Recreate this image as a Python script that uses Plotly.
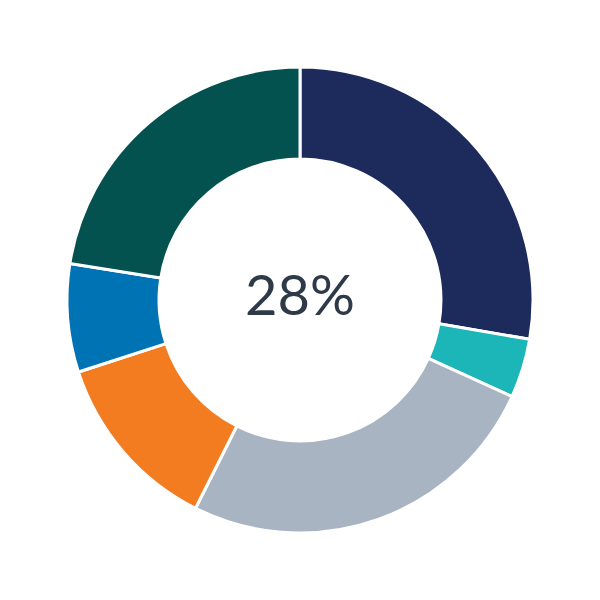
import plotly.graph_objects as go

labels = ["Navy", "Teal", "Gray", "Orange", "Blue", "Green"]
values = [27.7, 4.1, 25.6, 12.6, 7.5, 22.5]
colors = ["#1c2b5b", "#1cb5b8", "#a9b4c3", "#f37c20", "#0073b5", "#03524f"]
center_text = "28%"

fig = go.Figure()
fig.add_trace(go.Pie(
    labels=labels,
    values=values,
    hole=0.605,
    sort=False,
    direction="clockwise",
    rotation=0,
    marker=dict(colors=colors, line=dict(color="white", width=3)),
    textinfo="none",
    hoverinfo="label+percent",
    showlegend=False,
))
fig.update_layout(
    margin=dict(l=59, r=59, t=59, b=59),
    paper_bgcolor="white",
    annotations=[dict(
        text=center_text, x=0.5, y=0.5, xref="paper", yref="paper",
        showarrow=False, yshift=7,
        font=dict(family="Lato", size=56, color="#2e3a48"),
    )],
)
fig.write_html("out.html")
